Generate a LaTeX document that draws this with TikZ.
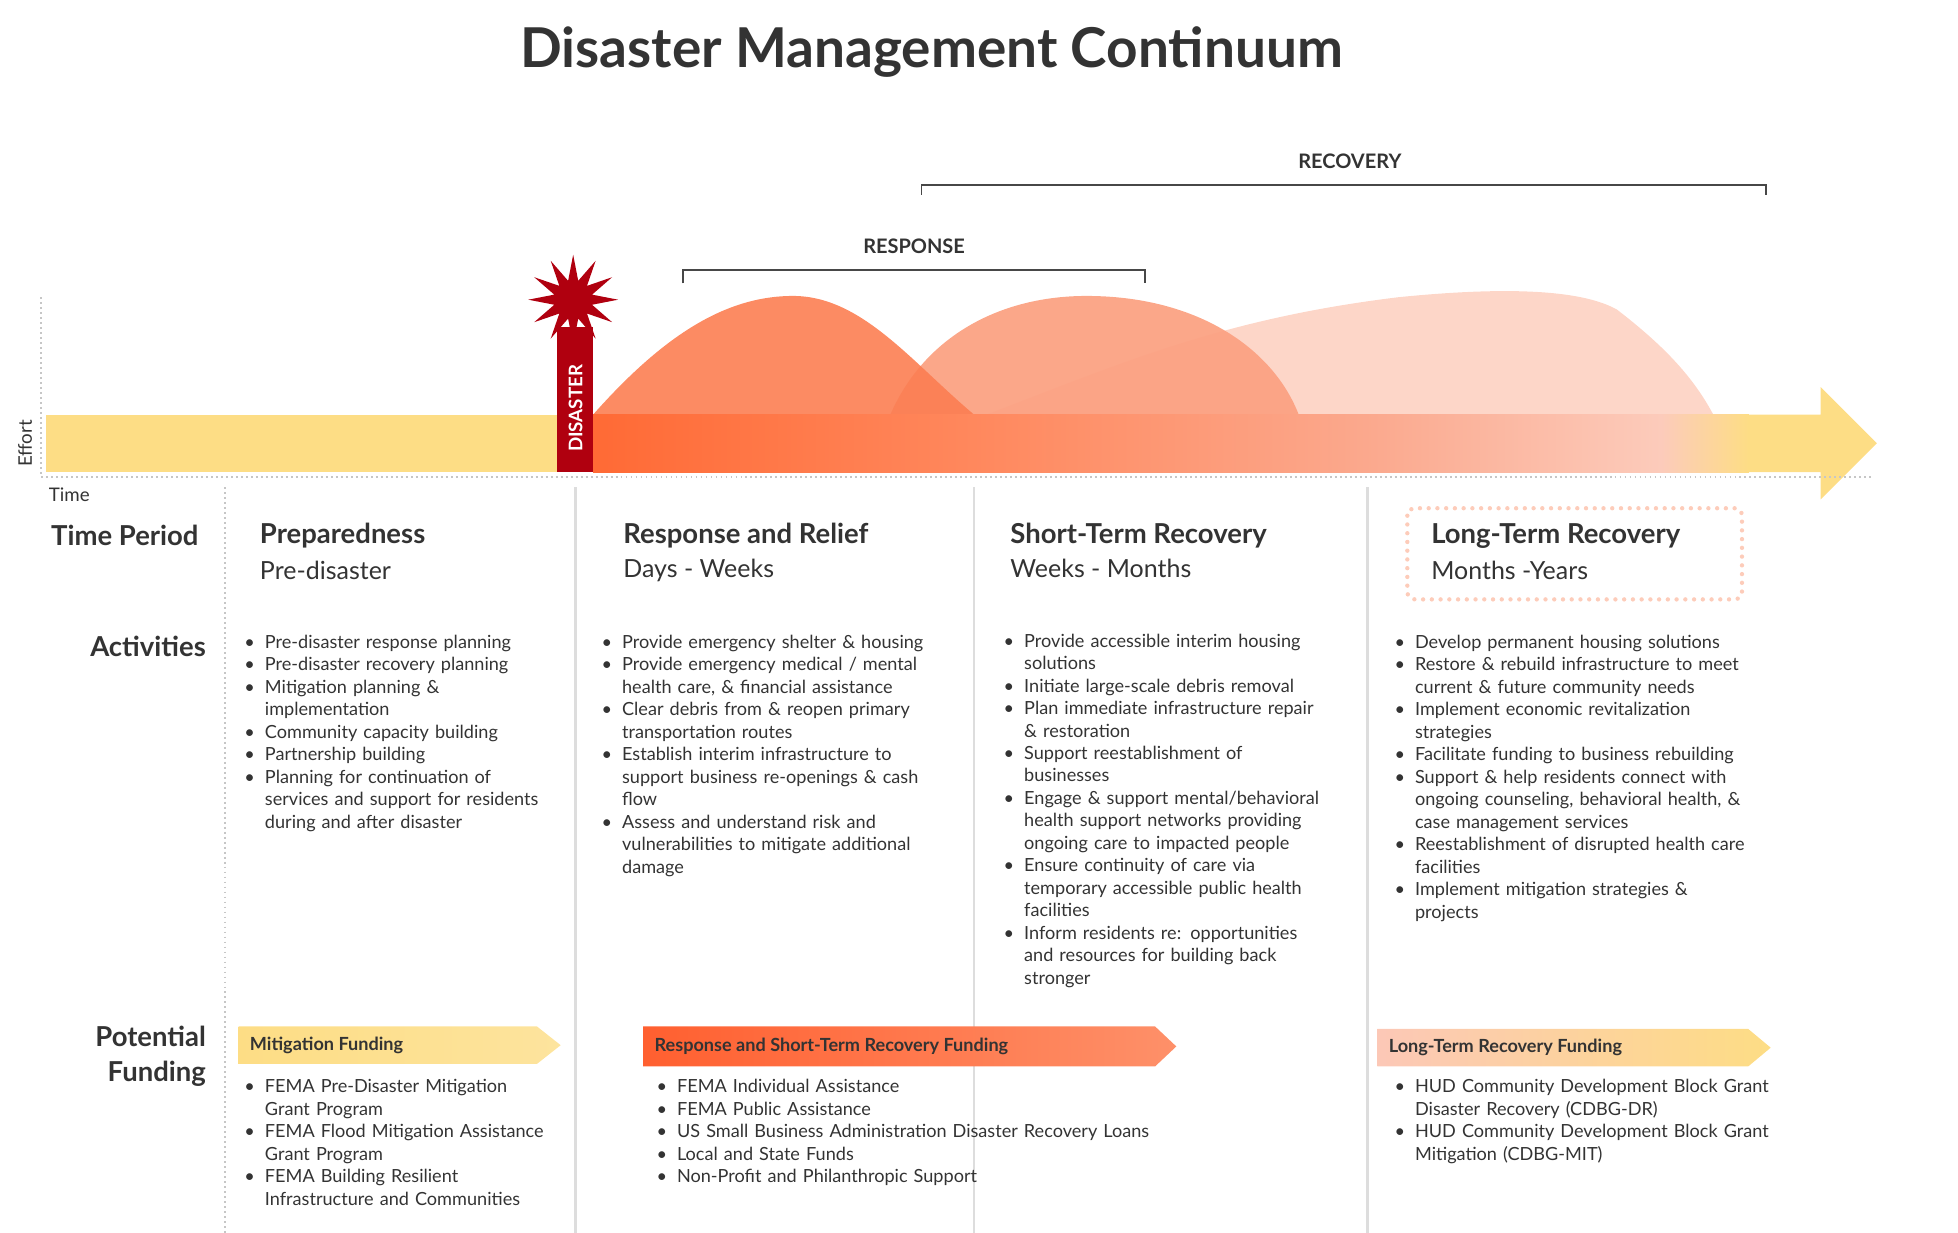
\documentclass[tikz,border=0pt]{standalone}
\usepackage{fontspec}
\setmainfont{Lato}
\usepackage{enumitem}
\usetikzlibrary{shapes.geometric}
\definecolor{txt}{HTML}{333333}
\definecolor{yel}{HTML}{FDDD85}
\definecolor{dred}{HTML}{B0000F}
\definecolor{or1}{HTML}{FF6A35}
\definecolor{or2}{HTML}{FF8A60}
\definecolor{or3}{HTML}{FBA98E}
\definecolor{or4}{HTML}{FCCBBB}
\definecolor{hA}{HTML}{FC7E52}
\definecolor{hB}{HTML}{FBA283}
\definecolor{hC}{HTML}{FDD6C8}
\definecolor{sep}{HTML}{DDDDDD}
\newcommand\bsz{\fontsize{14.5}{18}\selectfont}
\newenvironment{bl}{\begin{itemize}[leftmargin=15pt,labelsep=8pt,nosep,label=\textbullet]}{\end{itemize}}
\tikzset{
 lst/.style={anchor=north west,inner sep=0,text width=#1,font=\bsz,text=txt,align=left},
 hd/.style={anchor=west,inner sep=0,font=\fontsize{22}{26}\selectfont\bfseries,text=txt},
 sub/.style={anchor=west,inner sep=0,font=\fontsize{20}{24}\selectfont,text=txt},
 lab/.style={anchor=east,inner sep=0,font=\fontsize{22}{26}\selectfont\bfseries,text=txt,align=right},
 brk/.style={draw=txt!90,line width=1.3pt},
 vsep/.style={draw=sep,line width=2pt},
 dots/.style={draw=gray!45,line width=2pt,dash pattern=on 1.5pt off 2.5pt},
 fund/.style={anchor=west,inner sep=0,font=\fontsize{14.5}{18}\selectfont\bfseries,text=txt}
}
\begin{document}
\begin{tikzpicture}[x=1pt,y=-1pt]
\useasboundingbox (0,0) rectangle (1568,987);
\node[font=\fontsize{44}{50}\selectfont\bfseries,text=txt] (title) at (746,42) {Disaster Management Continuum};
% brackets
\node[font=\fontsize{16}{18}\selectfont\bfseries,text=txt] (rec) at (1081,129) {RECOVERY};
\draw[brk] (738,156) coordinate (r1) -- (738,148) -- (1414,148) -- (1414,156) coordinate (r2);
\node[font=\fontsize{16}{18}\selectfont\bfseries,text=txt] (resp) at (732,197) {RESPONSE};
\draw[brk] (547,227) coordinate (s1) -- (547,216) -- (917,216) -- (917,227) coordinate (s2);
% humps
\fill[hC] (790,332) .. controls (900,290) and (980,255) .. (1120,238) .. controls (1180,232) and (1260,228) .. (1295,248) .. controls (1330,275) and (1355,300) .. (1372,332) -- cycle;
\fill[hB,opacity=0.95] (713,332) .. controls (740,270) and (800,237) .. (870,237) .. controls (960,237) and (1020,280) .. (1040,332) -- cycle;
\fill[hA,opacity=0.9] (475,332) .. controls (530,270) and (580,237) .. (635,237) .. controls (690,237) and (730,290) .. (780,332) -- cycle;
% bar
\fill[yel] (37,332) rectangle (446,378);
\shade[left color=or1,right color=or2] (475,332) rectangle (800.5,378);
\shade[left color=or2,right color=or3] (800,332) rectangle (1100.5,378);
\shade[left color=or3,right color=or4] (1100,332) rectangle (1330.5,378);
\shade[left color=or4,right color=yel] (1330,332) rectangle (1400.5,378);
\fill[yel] (1400,332) -- (1458,332) -- (1458,310) -- (1503,355) -- (1458,400) -- (1458,378) -- (1400,378) -- cycle;
% axes
\draw[dots] (33,238) -- (33,382) -- (1500,382);
\node[rotate=90,font=\fontsize{15}{18}\selectfont,text=txt] (effort) at (20,355) {Effort};
\node[anchor=west,inner sep=0,font=\fontsize{15}{18}\selectfont,text=txt] (time) at (39,396) {Time};
% disaster
\fill[dred] (446,262) rectangle (475,378);
\node[star,star points=12,star point ratio=2.3,minimum size=72pt,fill=dred,inner sep=0] (star) at (459,240) {};
\node[rotate=90,font=\fontsize{15}{18}\selectfont\bfseries,text=white] (dis) at (461,327) {DISASTER};
% separators
\draw[dots] (180,390) -- (180,987);
\draw[vsep] (461,390) -- (461,987);
\draw[vsep] (780,390) -- (780,987);
\draw[vsep] (1095,390) -- (1095,987);
% left labels
\node[anchor=center,inner sep=0,font=\fontsize{22}{26}\selectfont\bfseries,text=txt] (tp) at (100,429) {Time Period};
\node[lab] (act) at (165,518) {Activities};
\node[lab,font=\fontsize{22}{28}\selectfont\bfseries] (pf) at (165,846) {Potential\\Funding};
% headers
\node[hd] (h1) at (208,429) {Preparedness};
\node[sub] (s1t) at (208,457) {Pre-disaster};
\node[hd] (h2) at (499,429) {Response and Relief};
\node[sub] (s2t) at (499,457) {Days - Weeks};
\node[hd] (h3) at (809,429) {Short-Term Recovery};
\node[sub] (s3t) at (809,455) {Weeks - Months};
\node[hd] (h4) at (1146,429) {Long-Term Recovery};
\node[sub] (s4t) at (1146,457) {Months -Years};
\draw[color=hC!80!hB,line width=3.5pt,line cap=round,dash pattern=on 0pt off 7pt,rounded corners=6pt] (1127,407) rectangle (1395,480);
% activities
\node[lst=250pt] (a1) at (197,501) {\begin{bl}
\item Pre-disaster response planning
\item Pre-disaster recovery planning
\item Mitigation planning \&\newline implementation
\item Community capacity building
\item Partnership building
\item Planning for continuation of\newline services and support for residents\newline during and after disaster
\end{bl}};
\node[lst=270pt] (a2) at (483,501) {\begin{bl}
\item Provide emergency shelter \& housing
\item Provide emergency medical / mental\newline health care, \& financial assistance
\item Clear debris from \& reopen primary\newline transportation routes
\item Establish interim infrastructure to\newline support business re-openings \& cash\newline flow
\item Assess and understand risk and\newline vulnerabilities to mitigate additional\newline damage
\end{bl}};
\node[lst=275pt] (a3) at (805,500) {\begin{bl}
\item Provide accessible interim housing\newline solutions
\item Initiate large-scale debris removal
\item Plan immediate infrastructure repair\newline \& restoration
\item Support reestablishment of\newline businesses
\item Engage \& support mental/behavioral\newline health support networks providing\newline ongoing care to impacted people
\item Ensure continuity of care via\newline temporary accessible public health\newline facilities
\item Inform residents re: opportunities\newline and resources for building back\newline stronger
\end{bl}};
\node[lst=300pt] (a4) at (1118,501) {\begin{bl}
\item Develop permanent housing solutions
\item Restore \& rebuild infrastructure to meet\newline current \& future community needs
\item Implement economic revitalization\newline strategies
\item Facilitate funding to business rebuilding
\item Support \& help residents connect with\newline ongoing counseling, behavioral health, \&\newline case management services
\item Reestablishment of disrupted health care\newline facilities
\item Implement mitigation strategies \&\newline projects
\end{bl}};
% funding arrows
\shade[left color=yel,right color=yel!80!white] (191,822) -- (430,822) -- (449,837) -- (430,852) -- (191,852) -- cycle;
\node[fund] (f1) at (200,837) {Mitigation Funding};
\shade[left color=or1!90!red,right color=or2!80!or3] (515,822) -- (925,822) -- (942,838) -- (925,854) -- (515,854) -- cycle;
\node[fund] (f2) at (524,838) {Response and Short-Term Recovery Funding};
\shade[left color=or4!90!or3,right color=yel] (1103,824) -- (1400,824) -- (1418,839) -- (1400,854) -- (1103,854) -- cycle;
\node[fund] (f3) at (1112,839) {Long-Term Recovery Funding};
% funding lists
\node[lst=260pt] (b1) at (197,857) {\begin{bl}
\item FEMA Pre-Disaster Mitigation\newline Grant Program
\item FEMA Flood Mitigation Assistance\newline Grant Program
\item FEMA Building Resilient\newline Infrastructure and Communities
\end{bl}};
\node[lst=430pt] (b2) at (527,857) {\begin{bl}
\item FEMA Individual Assistance
\item FEMA Public Assistance
\item US Small Business Administration Disaster Recovery Loans
\item Local and State Funds
\item Non-Profit and Philanthropic Support
\end{bl}};
\node[lst=320pt] (b4) at (1118,857) {\begin{bl}
\item HUD Community Development Block Grant\newline Disaster Recovery (CDBG-DR)
\item HUD Community Development Block Grant\newline Mitigation (CDBG-MIT)
\end{bl}};
\end{tikzpicture}
\end{document}
